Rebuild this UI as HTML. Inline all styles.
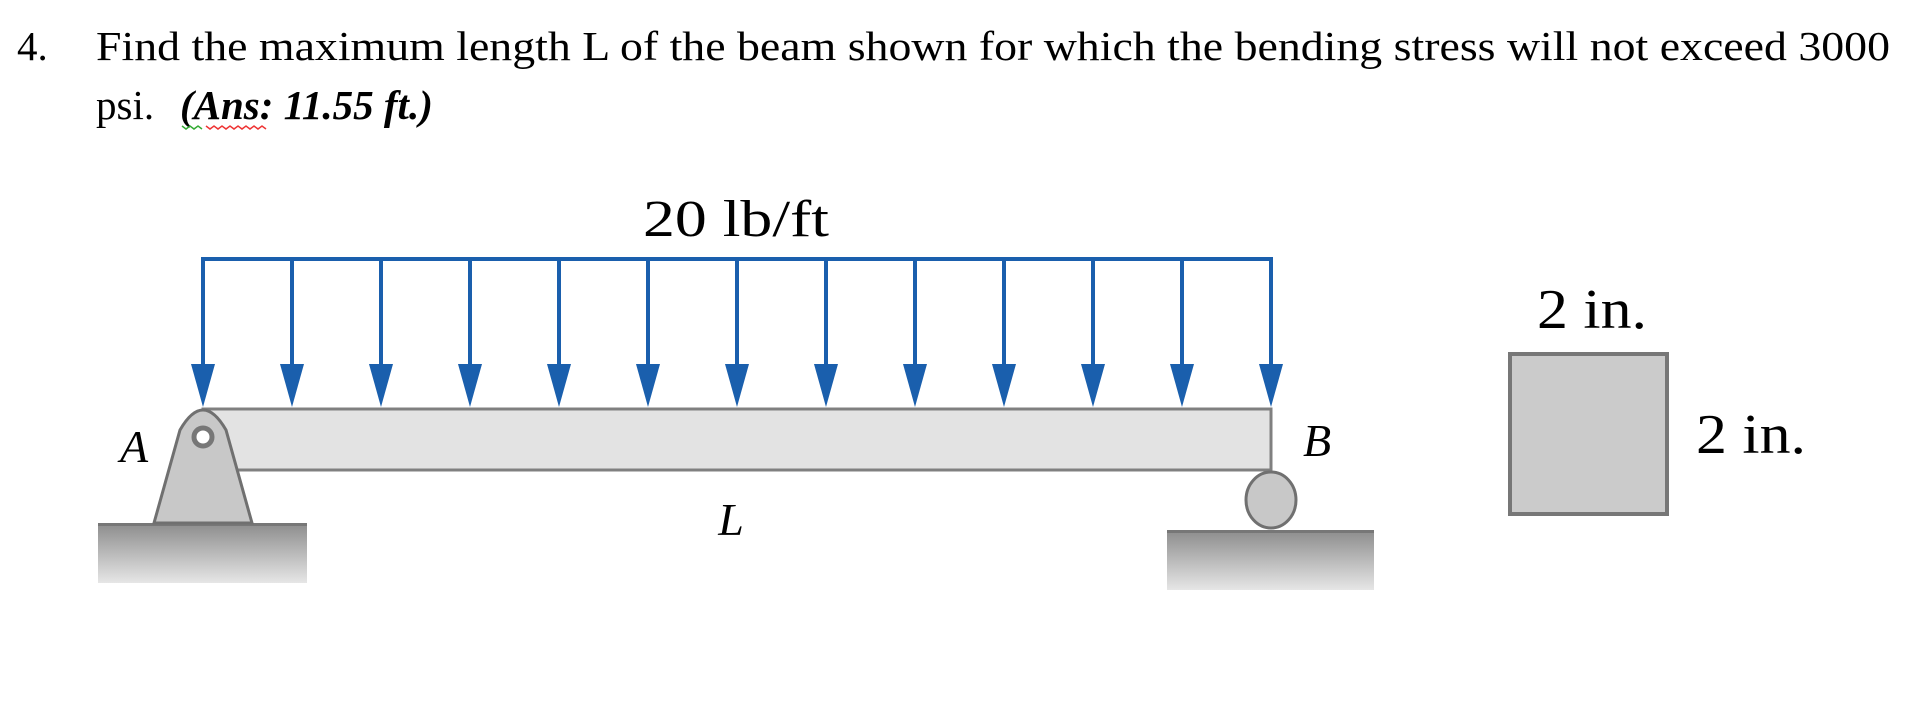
<!DOCTYPE html>
<html><head><meta charset="utf-8"><style>
html,body{margin:0;padding:0;background:#fff;}
svg{display:block;}
</style></head><body>
<svg width="1920" height="722" xmlns="http://www.w3.org/2000/svg" font-family="Liberation Serif, serif">
<defs>
<linearGradient id="g" x1="0" y1="0" x2="0" y2="1">
<stop offset="0" stop-color="#8c8c8c"/><stop offset="1" stop-color="#e6e6e6"/>
</linearGradient>
</defs>
<text x="17" y="60" font-size="41" fill="#000">4.</text>
<text x="96" y="60" font-size="41" fill="#000" textLength="1794" lengthAdjust="spacingAndGlyphs">Find the maximum length L of the beam shown for which the bending stress will not exceed 3000</text>
<text x="96" y="119" font-size="41" fill="#000">psi.</text>
<text x="180" y="119" font-size="41" fill="#000" font-weight="bold" font-style="italic">(Ans: 11.55 ft.)</text>
<path d="M182 126 l4 3 l4 -3 l4 3 l4 -3 l4 3" stroke="#3a3" fill="none" stroke-width="1.5"/>
<path d="M206 126 l4 3 l4 -3 l4 3 l4 -3 l4 3 l4 -3 l4 3 l4 -3 l4 3 l4 -3 l4 3 l4 -3 l4 3 l4 -3 l4 3" stroke="#e33" fill="none" stroke-width="1.5"/>

<text x="643" y="236" font-size="52" fill="#000" textLength="186" lengthAdjust="spacingAndGlyphs">20 lb/ft</text>
<rect x="98" y="523" width="209" height="60" fill="url(#g)"/>
<rect x="98" y="523" width="209" height="3" fill="#777"/>
<rect x="1167" y="530" width="207" height="60" fill="url(#g)"/>
<rect x="1167" y="530" width="207" height="3" fill="#777"/>
<rect x="203" y="409" width="1068" height="61" fill="#e3e3e3" stroke="#808080" stroke-width="3"/>
<path d="M154 523 L180 430 Q203 390 226 430 L252 523 Z" fill="#c8c8c8" stroke="#707070" stroke-width="3"/>
<circle cx="203" cy="437" r="9" fill="#fff" stroke="#777" stroke-width="5"/>
<ellipse cx="1271" cy="500" rx="25" ry="28" fill="#c8c8c8" stroke="#707070" stroke-width="3"/>
<g stroke="#1a5fad" stroke-width="4" fill="#1a5fad">
<line x1="201" y1="259" x2="1273" y2="259"/>
</g>
<g fill="#1a5fad" stroke="#1a5fad" stroke-width="4">
<line x1="203" y1="258" x2="203" y2="370"/><path d="M191 364 L215 364 L203 407 Z" stroke="none"/>
<line x1="292" y1="258" x2="292" y2="370"/><path d="M280 364 L304 364 L292 407 Z" stroke="none"/>
<line x1="381" y1="258" x2="381" y2="370"/><path d="M369 364 L393 364 L381 407 Z" stroke="none"/>
<line x1="470" y1="258" x2="470" y2="370"/><path d="M458 364 L482 364 L470 407 Z" stroke="none"/>
<line x1="559" y1="258" x2="559" y2="370"/><path d="M547 364 L571 364 L559 407 Z" stroke="none"/>
<line x1="648" y1="258" x2="648" y2="370"/><path d="M636 364 L660 364 L648 407 Z" stroke="none"/>
<line x1="737" y1="258" x2="737" y2="370"/><path d="M725 364 L749 364 L737 407 Z" stroke="none"/>
<line x1="826" y1="258" x2="826" y2="370"/><path d="M814 364 L838 364 L826 407 Z" stroke="none"/>
<line x1="915" y1="258" x2="915" y2="370"/><path d="M903 364 L927 364 L915 407 Z" stroke="none"/>
<line x1="1004" y1="258" x2="1004" y2="370"/><path d="M992 364 L1016 364 L1004 407 Z" stroke="none"/>
<line x1="1093" y1="258" x2="1093" y2="370"/><path d="M1081 364 L1105 364 L1093 407 Z" stroke="none"/>
<line x1="1182" y1="258" x2="1182" y2="370"/><path d="M1170 364 L1194 364 L1182 407 Z" stroke="none"/>
<line x1="1271" y1="258" x2="1271" y2="370"/><path d="M1259 364 L1283 364 L1271 407 Z" stroke="none"/>
</g>
<text x="120" y="462" font-size="46" font-style="italic" fill="#000">A</text>
<text x="1303" y="456" font-size="46" font-style="italic" fill="#000">B</text>
<text x="731" y="535" font-size="46" font-style="italic" text-anchor="middle" fill="#000">L</text>
<rect x="1510" y="354" width="157" height="160" fill="#cbcbcb" stroke="#777" stroke-width="4"/>
<text x="1537" y="328" font-size="56" fill="#000" textLength="110" lengthAdjust="spacingAndGlyphs">2 in.</text>
<text x="1696" y="453" font-size="56" fill="#000" textLength="110" lengthAdjust="spacingAndGlyphs">2 in.</text>
</svg>
</body></html>
